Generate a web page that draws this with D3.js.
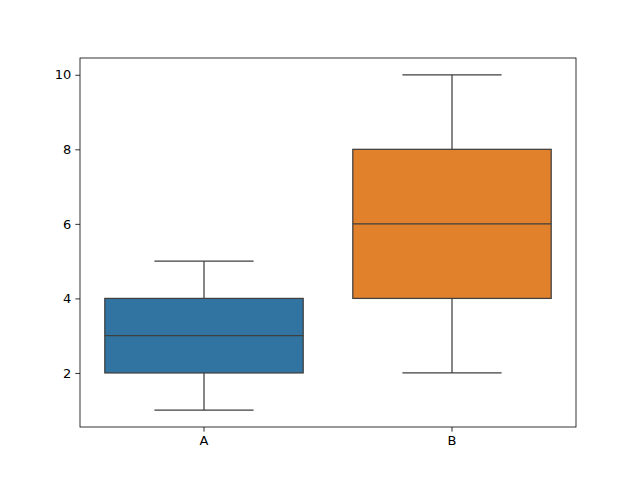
<!DOCTYPE html>
<html>
<head>
<meta charset="utf-8">
<script src="https://cdn.jsdelivr.net/npm/d3@7"></script>
<style>
body { margin: 0; background: #fff; }
text { font-family: "DejaVu Sans", sans-serif; font-size: 13px; fill: #000; }
</style>
</head>
<body>
<div id="chart"></div>
<script>
// box summaries
const categories = ["A", "B"];
const whiskerLow = [1, 2];
const q1 = [2, 4];
const medians = [3, 6];
const q3 = [4, 8];
const whiskerHigh = [5, 10];
const colors = ["#3274a1", "#e1812c"];
const yTicks = [2, 4, 6, 8, 10];

const width = 640, height = 480;
const margin = { left: 80, right: 64, top: 58, bottom: 53 };

const svg = d3.select("#chart").append("svg")
  .attr("width", width).attr("height", height);

const x = d3.scaleBand().domain(categories)
  .range([margin.left, width - margin.right]);
const y = d3.scaleLinear().domain([0.55, 10.45])
  .range([height - margin.bottom, margin.top]);

const xAxis = svg.append("g")
  .attr("transform", `translate(0,${height - margin.bottom})`)
  .call(d3.axisBottom(x).tickSize(4.7).tickPadding(4));
const yAxis = svg.append("g")
  .attr("transform", `translate(${margin.left},0)`)
  .call(d3.axisLeft(y).tickValues(yTicks).tickFormat(d3.format("d")).tickSize(4.7).tickPadding(4));
[xAxis, yAxis].forEach(a => {
  a.select(".domain").remove();
  a.selectAll("text").style("font-family", "DejaVu Sans").style("font-size", "13px");
  a.selectAll("line").attr("stroke", "#000").attr("stroke-width", 0.8);
});

const lineCol = "#3f3f3f";
const boxes = svg.selectAll("g.box")
  .data(categories.map((c, i) => ({ c, i })))
  .enter().append("g").attr("class", "box");

const bw = x.bandwidth() * 0.8;
const cx = d => x(d.c) + x.bandwidth() / 2;

// whiskers
boxes.append("line")
  .attr("x1", cx).attr("x2", cx)
  .attr("y1", d => y(whiskerLow[d.i])).attr("y2", d => y(q1[d.i]))
  .attr("stroke", lineCol).attr("stroke-width", 1.25);
boxes.append("line")
  .attr("x1", cx).attr("x2", cx)
  .attr("y1", d => y(q3[d.i])).attr("y2", d => y(whiskerHigh[d.i]))
  .attr("stroke", lineCol).attr("stroke-width", 1.25);
// caps
[whiskerLow, whiskerHigh].forEach(arr => {
  boxes.append("line")
    .attr("x1", d => cx(d) - bw / 4).attr("x2", d => cx(d) + bw / 4)
    .attr("y1", d => y(arr[d.i])).attr("y2", d => y(arr[d.i]))
    .attr("stroke", lineCol).attr("stroke-width", 1.25);
});
// boxes
boxes.append("rect")
  .attr("x", d => cx(d) - bw / 2).attr("width", bw)
  .attr("y", d => y(q3[d.i])).attr("height", d => y(q1[d.i]) - y(q3[d.i]))
  .attr("fill", d => colors[d.i])
  .attr("stroke", lineCol).attr("stroke-width", 1.25);
// medians
boxes.append("line")
  .attr("x1", d => cx(d) - bw / 2).attr("x2", d => cx(d) + bw / 2)
  .attr("y1", d => y(medians[d.i])).attr("y2", d => y(medians[d.i]))
  .attr("stroke", lineCol).attr("stroke-width", 1.25);

// frame
svg.append("rect")
  .attr("x", margin.left).attr("y", margin.top)
  .attr("width", width - margin.left - margin.right)
  .attr("height", height - margin.top - margin.bottom)
  .attr("fill", "none").attr("stroke", "#000").attr("stroke-width", 0.8);
</script>
</body>
</html>
